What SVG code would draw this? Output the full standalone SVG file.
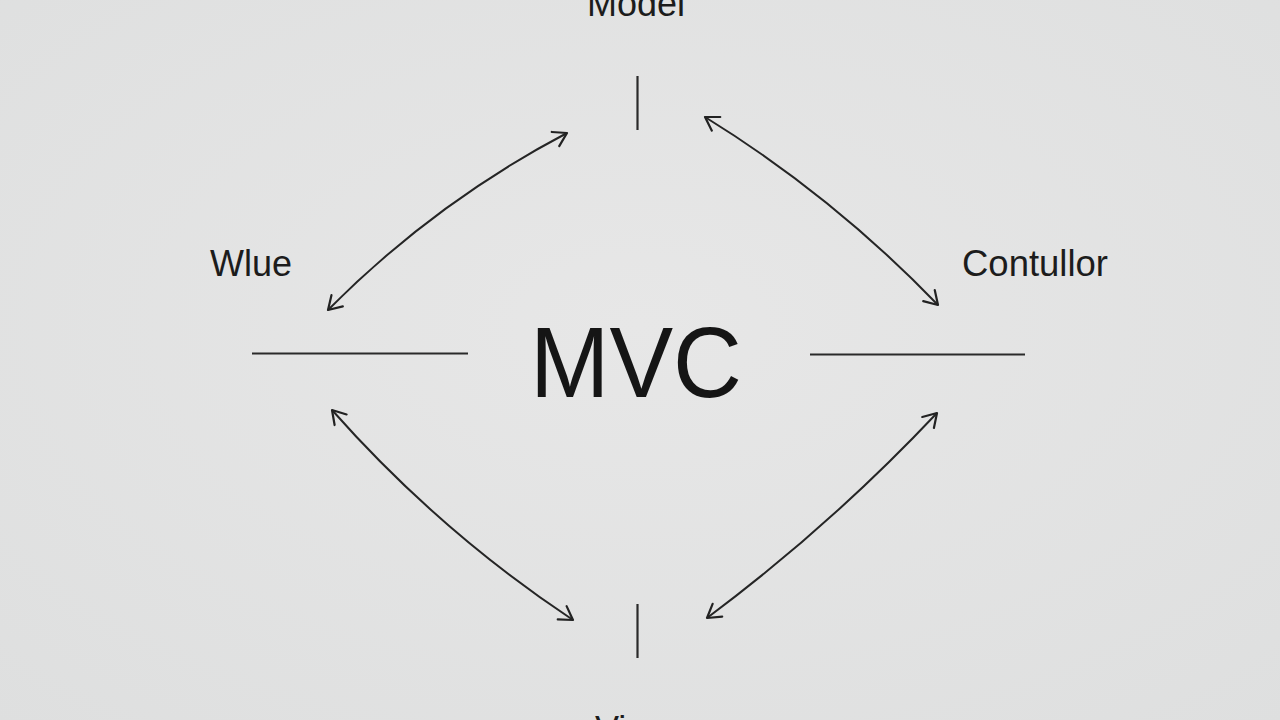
<svg xmlns="http://www.w3.org/2000/svg" width="1280" height="720" viewBox="0 0 1280 720">
<defs>
<radialGradient id="bg" cx="50%" cy="45%" r="75%">
<stop offset="0" stop-color="#e7e7e7"/>
<stop offset="1" stop-color="#dedfdf"/>
</radialGradient>
<marker id="chev" markerUnits="userSpaceOnUse" markerWidth="30" markerHeight="30" viewBox="-20 -15 30 30" refX="0" refY="0" orient="auto-start-reverse">
<path d="M -13 -8 L 0 0 L -13 8" fill="none" stroke="#222" stroke-width="2.2" stroke-linecap="round" stroke-linejoin="round"/>
</marker>
<style>
.lbl{font-family:"Liberation Sans","Noto Sans",sans-serif;font-size:36px;fill:#1c1c1c;}
.title{font-family:"Liberation Sans","Noto Sans",sans-serif;font-size:100px;fill:#151515;}
.bar{stroke:#2a2a2a;stroke-width:2.2;fill:none;}
.arc{stroke:#252525;stroke-width:2;fill:none;marker-start:url(#chev);marker-end:url(#chev);}
</style>
</defs>
<rect width="1280" height="720" fill="url(#bg)"/>
<g id="center">
<text class="title" x="636" y="397" text-anchor="middle" textLength="212" lengthAdjust="spacingAndGlyphs">MVC</text>
</g>
<g id="model">
<text class="lbl" x="636" y="16" text-anchor="middle">Model</text>
<line class="bar" x1="637.5" y1="76" x2="637.5" y2="130"/>
</g>
<g id="view-left">
<text class="lbl" x="210" y="276">Wlue</text>
<line class="bar" x1="252" y1="353.5" x2="468" y2="353.5"/>
</g>
<g id="controller">
<text class="lbl" x="962" y="276" textLength="146" lengthAdjust="spacingAndGlyphs">Contullor</text>
<line class="bar" x1="810" y1="354.5" x2="1025" y2="354.5"/>
</g>
<g id="view-bottom">
<text class="lbl" x="595" y="742">View</text>
<line class="bar" x1="637.5" y1="604" x2="637.5" y2="658"/>
</g>
<g id="connectors">
<path class="arc" d="M 328 310 Q 434 203 567 133"/>
<path class="arc" d="M 705 117 Q 833 196 938 305"/>
<path class="arc" d="M 332 410 Q 439 531 573 620"/>
<path class="arc" d="M 937 413 Q 831 525.5 707 618"/>
</g>
</svg>
